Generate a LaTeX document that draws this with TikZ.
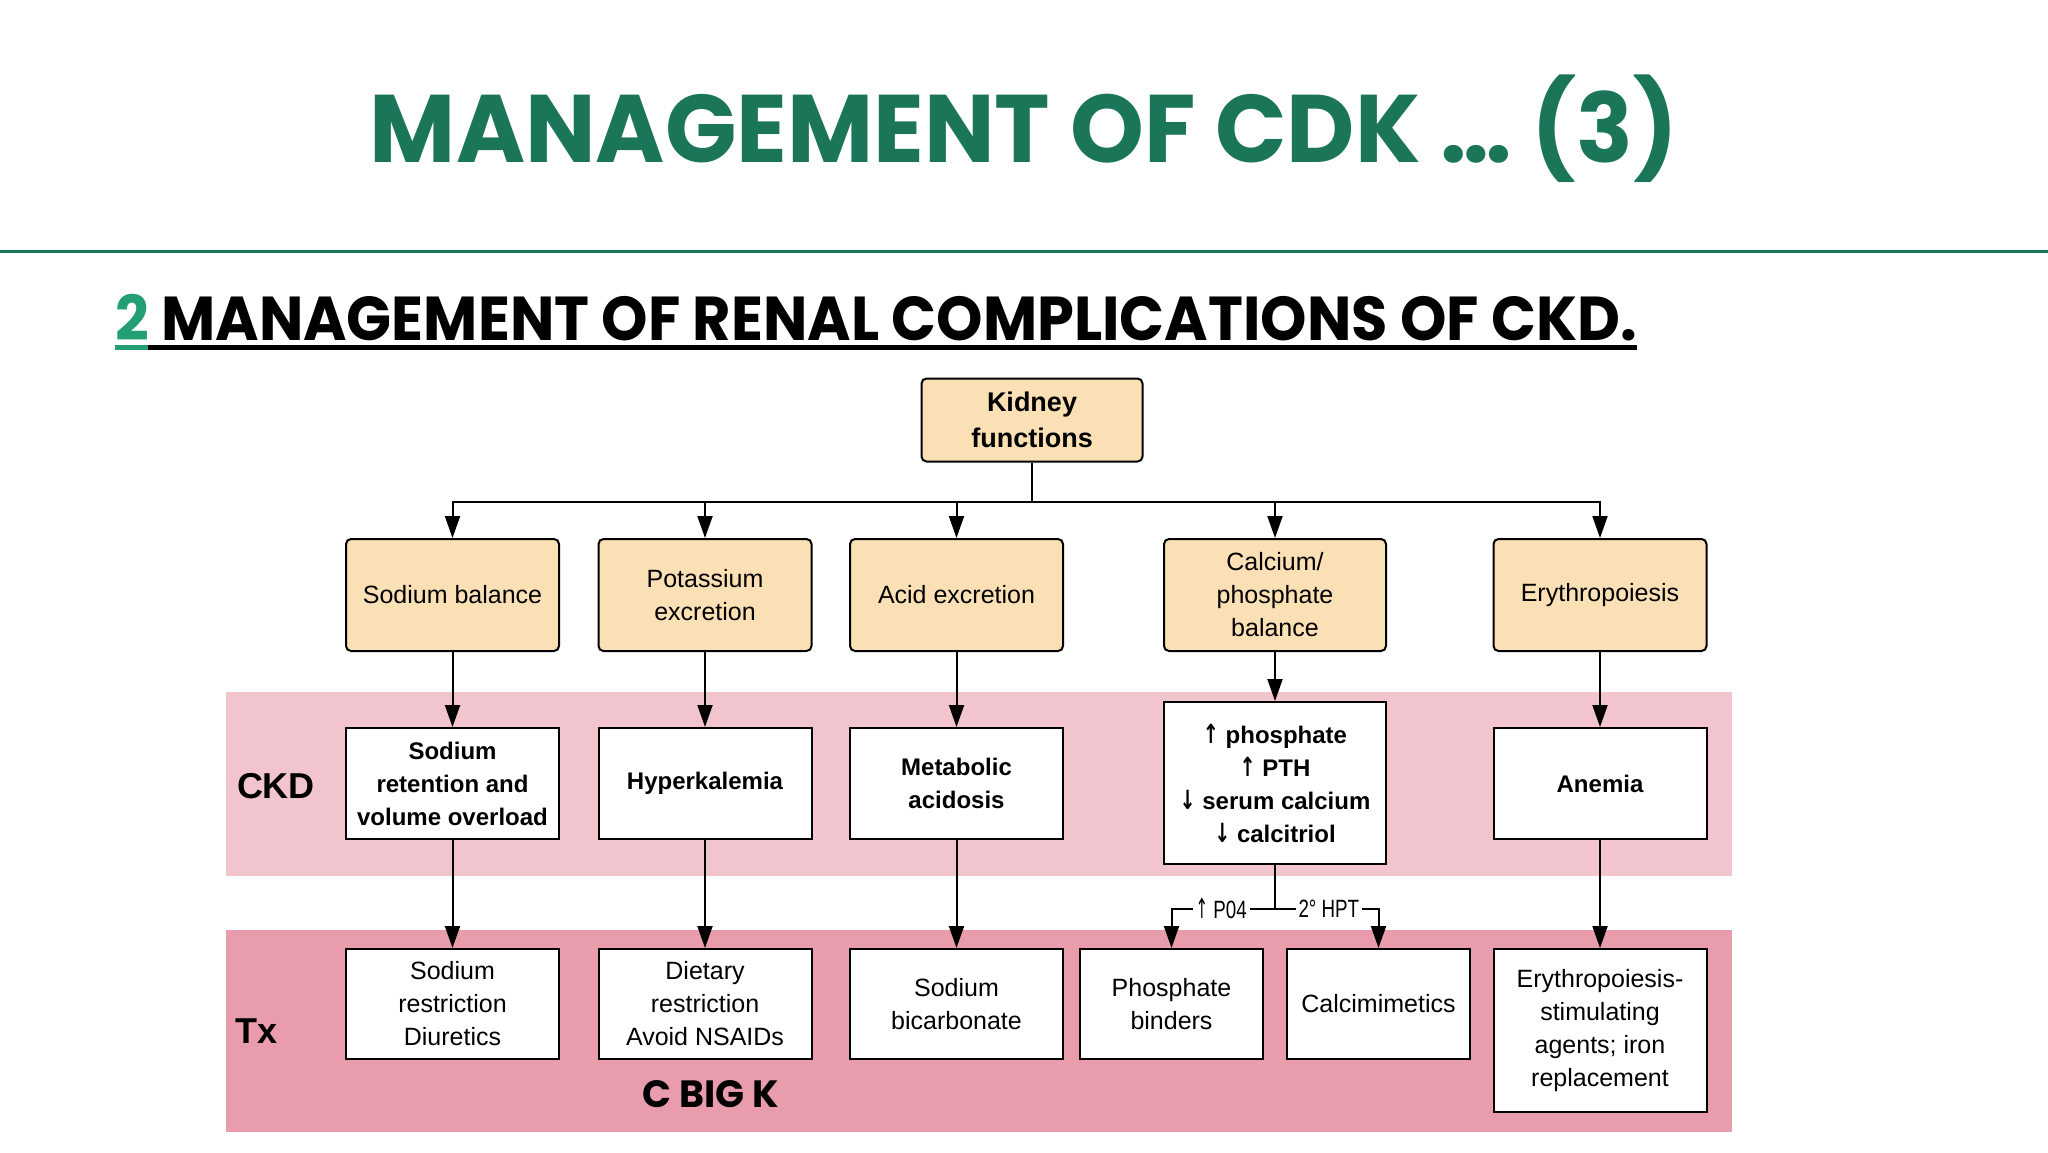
\documentclass[tikz,border=0pt]{standalone}
\usepackage{fontspec}
\setmainfont{Liberation Sans}
\newfontfamily\gothic{Poppins}
\newfontfamily\arrowfont{DejaVu Sans}
\newcommand{\upar}{{\arrowfont\scalebox{0.8}[1.1]{↑}}}
\newcommand{\dnar}{{\arrowfont\scalebox{0.8}[1.1]{↓}}}
\usetikzlibrary{arrows.meta}
\definecolor{peach}{HTML}{FBE0B5}
\definecolor{ckdband}{HTML}{F2C4CE}
\definecolor{txband}{HTML}{E89CAC}
\definecolor{titlegreen}{HTML}{1B7558}
\definecolor{subgreen}{HTML}{23A073}
\tikzset{
  fnbox/.style={draw, line width=2pt, fill=peach, rounded corners=5pt, align=center, inner sep=2pt,
    minimum width=213pt, minimum height=112pt, font=\fontsize{25}{33}\selectfont},
  ckdbox/.style={draw, line width=2pt, fill=white, align=center, inner sep=2pt,
    minimum width=213pt, minimum height=111pt, font=\bfseries\fontsize{24}{33}\selectfont},
  txbox/.style={draw, line width=2pt, fill=white, align=center, inner sep=2pt,
    minimum width=213pt, minimum height=110pt, font=\fontsize{25}{33}\selectfont},
  arr/.style={line width=2pt, -{Triangle[length=22pt,width=15pt]}},
  plain/.style={line width=2pt},
  rowlab/.style={font=\bfseries\fontsize{36}{40}\selectfont, inner sep=0pt},
  splitlab/.style={fill=white, inner xsep=3pt, inner ysep=1pt, font=\fontsize{25}{28}\selectfont}
}
\begin{document}
\begin{tikzpicture}[x=1pt,y=-1pt]
\useasboundingbox[fill=white] (0,0) rectangle (2048,1152);
% bands
\fill[ckdband] (226,692) rectangle (1732,876);
\fill[txband] (226,930) rectangle (1732,1132);
% title
\node[anchor=base, inner sep=0pt, text=titlegreen, font=\gothic\bfseries\fontsize{96}{110}\selectfont] (title) at (1024,162) {\scalebox{0.978}[1]{MANAGEMENT OF CDK … (3)}};
\draw[titlegreen, line width=3pt] (0,251) -- (2048,251);
% subtitle
\node[anchor=base west, inner sep=0pt, font=\gothic\bfseries\fontsize{62}{70}\selectfont] (sub) at (115,340) {\scalebox{0.952}[1]{\textcolor{subgreen}{2} MANAGEMENT OF RENAL COMPLICATIONS OF CKD.}};
\draw[subgreen, line width=5pt] ([yshift=-7pt]sub.base west) -- ++(33,0) coordinate (ulmid);
\draw[black, line width=5pt] (ulmid) -- ([yshift=-7pt]sub.base east);
% top
\node[fnbox, minimum width=221pt, minimum height=83pt, font=\bfseries\fontsize{27}{36}\selectfont] (kidney) at (1032,420) {Kidney\\functions};
\coordinate (bus) at (1032,502);
% level 1
\node[fnbox] (sodbal) at (452.5,595) {Sodium balance};
\node[fnbox] (potex) at (705,595) {Potassium\\excretion};
\node[fnbox] (acidex) at (956.5,595) {Acid excretion};
\node[fnbox, minimum width=222pt] (calbal) at (1275,595) {Calcium/\\phosphate\\balance};
\node[fnbox] (eryth) at (1600,595) {Erythropoiesis};
% level 2 (CKD)
\node[ckdbox] (sodret) at (452.5,783.5) {Sodium\\retention and\\volume overload};
\node[ckdbox] (hyperk) at (705,783.5) {Hyperkalemia};
\node[ckdbox] (metac) at (956.5,783.5) {Metabolic\\acidosis};
\node[ckdbox, minimum width=222pt, minimum height=162pt] (calckd) at (1275,783) {\upar{} phosphate\\\upar{} PTH\\\dnar{} serum calcium\\\dnar{} calcitriol};
\node[ckdbox] (anemia) at (1600,783.5) {Anemia};
% level 3 (Tx)
\node[txbox] (sodres) at (452.5,1004) {Sodium\\restriction\\Diuretics};
\node[txbox] (dietr) at (705,1004) {Dietary\\restriction\\Avoid NSAIDs};
\node[txbox] (bicarb) at (956.5,1004) {Sodium\\bicarbonate};
\node[txbox, minimum width=183pt] (phosb) at (1171.5,1004) {Phosphate\\binders};
\node[txbox, minimum width=183pt] (calcim) at (1378.5,1004) {Calcimimetics};
\node[txbox, minimum height=163pt] (esa) at (1600,1030.5) {Erythropoiesis-\\stimulating\\agents; iron\\replacement};
% row labels
\node[rowlab] (ckdlab) at (276,786) {CKD};
\node[rowlab] (txlab) at (257,1031) {Tx};
\node[anchor=base, inner sep=0pt, font=\gothic\bfseries\fontsize{38}{44}\selectfont] (cbigk) at (711,1107) {C BIG K};
% connectors
\draw[plain] (kidney.south) -- (bus);
\foreach \n in {sodbal,potex,acidex,calbal,eryth}{
  \draw[arr] (bus) -| (\n.north);
}
\draw[arr] (sodbal.south) -- (sodret.north);
\draw[arr] (potex.south) -- (hyperk.north);
\draw[arr] (acidex.south) -- (metac.north);
\draw[arr] (calbal.south) -- (calckd.north);
\draw[arr] (eryth.south) -- (anemia.north);
\draw[arr] (sodret.south) -- (sodres.north);
\draw[arr] (hyperk.south) -- (dietr.north);
\draw[arr] (metac.south) -- (bicarb.north);
\draw[arr] (anemia.south) -- (esa.north);
\coordinate (split) at (1275,909);
\draw[plain] (calckd.south) -- (split);
\draw[arr] (split) -| node[splitlab, pos=0.26] (po4) {\scalebox{0.75}[1]{\upar{} P04}} (phosb.north);
\draw[arr] (split) -| node[splitlab, pos=0.26] (hpt) {\scalebox{0.75}[1]{2° HPT}} (calcim.north);
\end{tikzpicture}
\end{document}
